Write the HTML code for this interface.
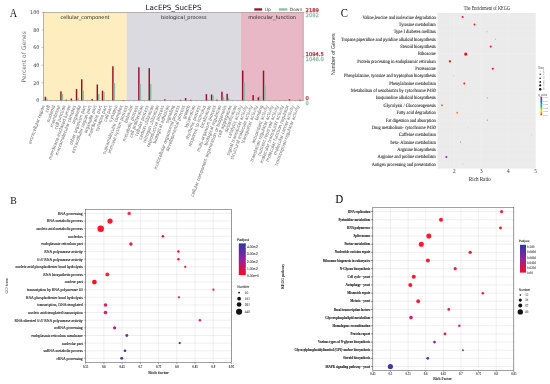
<!DOCTYPE html>
<html><head><meta charset="utf-8"><title>Figure</title>
<style>html,body{margin:0;padding:0;background:#fff;}svg{display:block;}.gp{text-rendering:geometricPrecision;}</style></head>
<body><svg width="550" height="384" viewBox="0 0 550 384">
<rect x="0" y="0" width="550" height="384" fill="#fff"/>
<rect x="43.50" y="12.40" width="83.10" height="88.00" fill="#fdedbf"/>
<rect x="126.60" y="12.40" width="114.27" height="88.00" fill="#dadae0"/>
<rect x="240.87" y="12.40" width="62.33" height="88.00" fill="#e9b8c6"/>
<rect x="43.50" y="12.40" width="259.70" height="88.00" fill="none" stroke="#a89e98" stroke-width="0.8"/>
<text x="85.05" y="18.60" font-size="5.0" fill="#222" font-family="'DejaVu Sans','Liberation Sans',sans-serif" text-anchor="middle">cellular_component</text>
<text x="183.74" y="18.60" font-size="5.0" fill="#222" font-family="'DejaVu Sans','Liberation Sans',sans-serif" text-anchor="middle">biological_process</text>
<text x="272.04" y="18.60" font-size="5.0" fill="#222" font-family="'DejaVu Sans','Liberation Sans',sans-serif" text-anchor="middle">molecular_function</text>
<line x1="41.60" y1="100.40" x2="43.50" y2="100.40" stroke="#888" stroke-width="0.5"/>
<text x="39.40" y="102.15" font-size="4.9" fill="#555" font-family="'DejaVu Sans','Liberation Sans',sans-serif" text-anchor="end" stroke="#555" stroke-width="0.06">0</text>
<line x1="41.60" y1="82.80" x2="43.50" y2="82.80" stroke="#888" stroke-width="0.5"/>
<text x="39.40" y="84.55" font-size="4.9" fill="#555" font-family="'DejaVu Sans','Liberation Sans',sans-serif" text-anchor="end" stroke="#555" stroke-width="0.06">20</text>
<line x1="41.60" y1="65.20" x2="43.50" y2="65.20" stroke="#888" stroke-width="0.5"/>
<text x="39.40" y="66.95" font-size="4.9" fill="#555" font-family="'DejaVu Sans','Liberation Sans',sans-serif" text-anchor="end" stroke="#555" stroke-width="0.06">40</text>
<line x1="41.60" y1="47.60" x2="43.50" y2="47.60" stroke="#888" stroke-width="0.5"/>
<text x="39.40" y="49.35" font-size="4.9" fill="#555" font-family="'DejaVu Sans','Liberation Sans',sans-serif" text-anchor="end" stroke="#555" stroke-width="0.06">60</text>
<line x1="41.60" y1="30.00" x2="43.50" y2="30.00" stroke="#888" stroke-width="0.5"/>
<text x="39.40" y="31.75" font-size="4.9" fill="#555" font-family="'DejaVu Sans','Liberation Sans',sans-serif" text-anchor="end" stroke="#555" stroke-width="0.06">80</text>
<line x1="41.60" y1="12.40" x2="43.50" y2="12.40" stroke="#888" stroke-width="0.5"/>
<text x="39.40" y="14.15" font-size="4.9" fill="#555" font-family="'DejaVu Sans','Liberation Sans',sans-serif" text-anchor="end" stroke="#555" stroke-width="0.06">100</text>
<text x="25.80" y="56.80" font-size="6.0" fill="#777" font-family="'DejaVu Sans','Liberation Sans',sans-serif" text-anchor="middle" transform="rotate(-90 25.80 56.80)">Percent of Genes</text>
<text x="173.50" y="10.00" font-size="7.2" fill="#111" font-family="'DejaVu Sans','Liberation Sans',sans-serif" text-anchor="middle">LacEPS_SucEPS</text>
<rect x="254.30" y="8.30" width="7.80" height="2.30" fill="#a0122c"/>
<text x="264.80" y="10.90" font-size="4.4" fill="#444" font-family="'DejaVu Sans','Liberation Sans',sans-serif">Up</text>
<rect x="278.80" y="8.30" width="8.60" height="2.30" fill="#8cc0a8"/>
<text x="289.80" y="10.90" font-size="4.4" fill="#444" font-family="'DejaVu Sans','Liberation Sans',sans-serif">Down</text>
<line x1="303.20" y1="12.40" x2="304.60" y2="12.40" stroke="#999" stroke-width="0.5"/>
<line x1="303.20" y1="56.40" x2="304.60" y2="56.40" stroke="#999" stroke-width="0.5"/>
<line x1="303.20" y1="100.40" x2="304.60" y2="100.40" stroke="#999" stroke-width="0.5"/>
<text x="305.60" y="11.70" font-size="5.2" fill="#b5303f" font-family="'DejaVu Sans','Liberation Sans',sans-serif" class="gp" stroke="#b5303f" stroke-width="0.3">2189</text>
<text x="305.60" y="16.60" font-size="5.2" fill="#8fbfa9" font-family="'DejaVu Sans','Liberation Sans',sans-serif" class="gp" stroke="#8fbfa9" stroke-width="0.3">2092</text>
<text x="305.60" y="55.60" font-size="5.2" fill="#b5303f" font-family="'DejaVu Sans','Liberation Sans',sans-serif" class="gp" stroke="#b5303f" stroke-width="0.3">1094.5</text>
<text x="305.60" y="60.50" font-size="5.2" fill="#8fbfa9" font-family="'DejaVu Sans','Liberation Sans',sans-serif" class="gp" stroke="#8fbfa9" stroke-width="0.3">1046.0</text>
<text x="305.60" y="100.00" font-size="5.2" fill="#b5303f" font-family="'DejaVu Sans','Liberation Sans',sans-serif" class="gp" stroke="#b5303f" stroke-width="0.3">0</text>
<text x="305.60" y="104.70" font-size="5.2" fill="#8fbfa9" font-family="'DejaVu Sans','Liberation Sans',sans-serif" class="gp" stroke="#8fbfa9" stroke-width="0.3">0</text>
<rect x="44.65" y="96.80" width="1.45" height="3.60" fill="#9c0e28"/>
<rect x="46.10" y="98.60" width="1.45" height="1.80" fill="#86bca4"/>
<rect x="60.23" y="91.40" width="1.45" height="9.00" fill="#9c0e28"/>
<rect x="61.68" y="94.00" width="1.45" height="6.40" fill="#86bca4"/>
<rect x="65.42" y="99.70" width="1.45" height="0.70" fill="#9c0e28"/>
<rect x="70.62" y="98.50" width="1.45" height="1.90" fill="#9c0e28"/>
<rect x="75.81" y="89.10" width="1.45" height="11.30" fill="#9c0e28"/>
<rect x="77.26" y="98.00" width="1.45" height="2.40" fill="#86bca4"/>
<rect x="81.00" y="79.30" width="1.45" height="21.10" fill="#9c0e28"/>
<rect x="82.45" y="90.80" width="1.45" height="9.60" fill="#86bca4"/>
<rect x="91.39" y="99.00" width="1.45" height="1.40" fill="#9c0e28"/>
<rect x="96.59" y="84.50" width="1.45" height="15.90" fill="#9c0e28"/>
<rect x="98.04" y="94.00" width="1.45" height="6.40" fill="#86bca4"/>
<rect x="101.78" y="90.70" width="1.45" height="9.70" fill="#9c0e28"/>
<rect x="103.23" y="91.90" width="1.45" height="8.50" fill="#86bca4"/>
<rect x="112.17" y="66.30" width="1.45" height="34.10" fill="#9c0e28"/>
<rect x="113.62" y="83.00" width="1.45" height="17.40" fill="#86bca4"/>
<rect x="122.56" y="100.00" width="1.45" height="0.40" fill="#9c0e28"/>
<rect x="138.14" y="67.30" width="1.45" height="33.10" fill="#9c0e28"/>
<rect x="139.59" y="84.00" width="1.45" height="16.40" fill="#86bca4"/>
<rect x="148.53" y="68.20" width="1.45" height="32.20" fill="#9c0e28"/>
<rect x="149.98" y="83.90" width="1.45" height="16.50" fill="#86bca4"/>
<rect x="164.11" y="99.30" width="1.45" height="1.10" fill="#9c0e28"/>
<rect x="179.69" y="99.80" width="1.45" height="0.60" fill="#9c0e28"/>
<rect x="184.89" y="98.00" width="1.45" height="2.40" fill="#9c0e28"/>
<rect x="190.08" y="99.80" width="1.45" height="0.60" fill="#9c0e28"/>
<rect x="205.66" y="94.10" width="1.45" height="6.30" fill="#9c0e28"/>
<rect x="207.11" y="99.30" width="1.45" height="1.10" fill="#86bca4"/>
<rect x="210.86" y="94.50" width="1.45" height="5.90" fill="#9c0e28"/>
<rect x="212.31" y="95.40" width="1.45" height="5.00" fill="#86bca4"/>
<rect x="216.05" y="99.70" width="1.45" height="0.70" fill="#9c0e28"/>
<rect x="221.24" y="91.70" width="1.45" height="8.70" fill="#9c0e28"/>
<rect x="222.69" y="96.90" width="1.45" height="3.50" fill="#86bca4"/>
<rect x="226.44" y="93.80" width="1.45" height="6.60" fill="#9c0e28"/>
<rect x="227.89" y="98.00" width="1.45" height="2.40" fill="#86bca4"/>
<rect x="242.02" y="70.60" width="1.45" height="29.80" fill="#9c0e28"/>
<rect x="243.47" y="82.30" width="1.45" height="18.10" fill="#86bca4"/>
<rect x="252.41" y="95.10" width="1.45" height="5.30" fill="#9c0e28"/>
<rect x="257.60" y="97.30" width="1.45" height="3.10" fill="#9c0e28"/>
<rect x="259.05" y="96.00" width="1.45" height="4.40" fill="#86bca4"/>
<rect x="262.80" y="70.60" width="1.45" height="29.80" fill="#9c0e28"/>
<rect x="264.25" y="84.90" width="1.45" height="15.50" fill="#86bca4"/>
<rect x="288.77" y="99.20" width="1.45" height="1.20" fill="#9c0e28"/>
<rect x="299.15" y="99.80" width="1.45" height="0.60" fill="#9c0e28"/>
<line x1="45.90" y1="100.40" x2="45.90" y2="101.80" stroke="#999" stroke-width="0.4"/>
<line x1="51.09" y1="100.40" x2="51.09" y2="101.80" stroke="#999" stroke-width="0.4"/>
<line x1="56.28" y1="100.40" x2="56.28" y2="101.80" stroke="#999" stroke-width="0.4"/>
<line x1="61.48" y1="100.40" x2="61.48" y2="101.80" stroke="#999" stroke-width="0.4"/>
<line x1="66.67" y1="100.40" x2="66.67" y2="101.80" stroke="#999" stroke-width="0.4"/>
<line x1="71.87" y1="100.40" x2="71.87" y2="101.80" stroke="#999" stroke-width="0.4"/>
<line x1="77.06" y1="100.40" x2="77.06" y2="101.80" stroke="#999" stroke-width="0.4"/>
<line x1="82.25" y1="100.40" x2="82.25" y2="101.80" stroke="#999" stroke-width="0.4"/>
<line x1="87.45" y1="100.40" x2="87.45" y2="101.80" stroke="#999" stroke-width="0.4"/>
<line x1="92.64" y1="100.40" x2="92.64" y2="101.80" stroke="#999" stroke-width="0.4"/>
<line x1="97.84" y1="100.40" x2="97.84" y2="101.80" stroke="#999" stroke-width="0.4"/>
<line x1="103.03" y1="100.40" x2="103.03" y2="101.80" stroke="#999" stroke-width="0.4"/>
<line x1="108.22" y1="100.40" x2="108.22" y2="101.80" stroke="#999" stroke-width="0.4"/>
<line x1="113.42" y1="100.40" x2="113.42" y2="101.80" stroke="#999" stroke-width="0.4"/>
<line x1="118.61" y1="100.40" x2="118.61" y2="101.80" stroke="#999" stroke-width="0.4"/>
<line x1="123.81" y1="100.40" x2="123.81" y2="101.80" stroke="#999" stroke-width="0.4"/>
<line x1="129.00" y1="100.40" x2="129.00" y2="101.80" stroke="#999" stroke-width="0.4"/>
<line x1="134.19" y1="100.40" x2="134.19" y2="101.80" stroke="#999" stroke-width="0.4"/>
<line x1="139.39" y1="100.40" x2="139.39" y2="101.80" stroke="#999" stroke-width="0.4"/>
<line x1="144.58" y1="100.40" x2="144.58" y2="101.80" stroke="#999" stroke-width="0.4"/>
<line x1="149.78" y1="100.40" x2="149.78" y2="101.80" stroke="#999" stroke-width="0.4"/>
<line x1="154.97" y1="100.40" x2="154.97" y2="101.80" stroke="#999" stroke-width="0.4"/>
<line x1="160.17" y1="100.40" x2="160.17" y2="101.80" stroke="#999" stroke-width="0.4"/>
<line x1="165.36" y1="100.40" x2="165.36" y2="101.80" stroke="#999" stroke-width="0.4"/>
<line x1="170.55" y1="100.40" x2="170.55" y2="101.80" stroke="#999" stroke-width="0.4"/>
<line x1="175.75" y1="100.40" x2="175.75" y2="101.80" stroke="#999" stroke-width="0.4"/>
<line x1="180.94" y1="100.40" x2="180.94" y2="101.80" stroke="#999" stroke-width="0.4"/>
<line x1="186.14" y1="100.40" x2="186.14" y2="101.80" stroke="#999" stroke-width="0.4"/>
<line x1="191.33" y1="100.40" x2="191.33" y2="101.80" stroke="#999" stroke-width="0.4"/>
<line x1="196.52" y1="100.40" x2="196.52" y2="101.80" stroke="#999" stroke-width="0.4"/>
<line x1="201.72" y1="100.40" x2="201.72" y2="101.80" stroke="#999" stroke-width="0.4"/>
<line x1="206.91" y1="100.40" x2="206.91" y2="101.80" stroke="#999" stroke-width="0.4"/>
<line x1="212.11" y1="100.40" x2="212.11" y2="101.80" stroke="#999" stroke-width="0.4"/>
<line x1="217.30" y1="100.40" x2="217.30" y2="101.80" stroke="#999" stroke-width="0.4"/>
<line x1="222.49" y1="100.40" x2="222.49" y2="101.80" stroke="#999" stroke-width="0.4"/>
<line x1="227.69" y1="100.40" x2="227.69" y2="101.80" stroke="#999" stroke-width="0.4"/>
<line x1="232.88" y1="100.40" x2="232.88" y2="101.80" stroke="#999" stroke-width="0.4"/>
<line x1="238.08" y1="100.40" x2="238.08" y2="101.80" stroke="#999" stroke-width="0.4"/>
<line x1="243.27" y1="100.40" x2="243.27" y2="101.80" stroke="#999" stroke-width="0.4"/>
<line x1="248.46" y1="100.40" x2="248.46" y2="101.80" stroke="#999" stroke-width="0.4"/>
<line x1="253.66" y1="100.40" x2="253.66" y2="101.80" stroke="#999" stroke-width="0.4"/>
<line x1="258.85" y1="100.40" x2="258.85" y2="101.80" stroke="#999" stroke-width="0.4"/>
<line x1="264.05" y1="100.40" x2="264.05" y2="101.80" stroke="#999" stroke-width="0.4"/>
<line x1="269.24" y1="100.40" x2="269.24" y2="101.80" stroke="#999" stroke-width="0.4"/>
<line x1="274.43" y1="100.40" x2="274.43" y2="101.80" stroke="#999" stroke-width="0.4"/>
<line x1="279.63" y1="100.40" x2="279.63" y2="101.80" stroke="#999" stroke-width="0.4"/>
<line x1="284.82" y1="100.40" x2="284.82" y2="101.80" stroke="#999" stroke-width="0.4"/>
<line x1="290.02" y1="100.40" x2="290.02" y2="101.80" stroke="#999" stroke-width="0.4"/>
<line x1="295.21" y1="100.40" x2="295.21" y2="101.80" stroke="#999" stroke-width="0.4"/>
<line x1="300.40" y1="100.40" x2="300.40" y2="101.80" stroke="#999" stroke-width="0.4"/>
<text x="0" y="0" font-size="4.7" fill="#6a6a6a" font-family="'DejaVu Sans','Liberation Sans',sans-serif" text-anchor="end" transform="translate(44.90 105.90) rotate(-70) scale(0.894 1)">extracellular region</text>
<text x="0" y="0" font-size="4.7" fill="#6a6a6a" font-family="'DejaVu Sans','Liberation Sans',sans-serif" text-anchor="end" transform="translate(50.09 105.90) rotate(-70) scale(0.894 1)">cell</text>
<text x="0" y="0" font-size="4.7" fill="#6a6a6a" font-family="'DejaVu Sans','Liberation Sans',sans-serif" text-anchor="end" transform="translate(55.28 105.90) rotate(-70) scale(0.894 1)">nucleoid</text>
<text x="0" y="0" font-size="4.7" fill="#6a6a6a" font-family="'DejaVu Sans','Liberation Sans',sans-serif" text-anchor="end" transform="translate(60.48 105.90) rotate(-70) scale(0.894 1)">membrane</text>
<text x="0" y="0" font-size="4.7" fill="#6a6a6a" font-family="'DejaVu Sans','Liberation Sans',sans-serif" text-anchor="end" transform="translate(65.67 105.90) rotate(-70) scale(0.894 1)">cell junction</text>
<text x="0" y="0" font-size="4.7" fill="#6a6a6a" font-family="'DejaVu Sans','Liberation Sans',sans-serif" text-anchor="end" transform="translate(70.87 105.90) rotate(-70) scale(0.894 1)">membrane-enclosed lumen</text>
<text x="0" y="0" font-size="4.7" fill="#6a6a6a" font-family="'DejaVu Sans','Liberation Sans',sans-serif" text-anchor="end" transform="translate(76.06 105.90) rotate(-70) scale(0.894 1)">macromolecular complex</text>
<text x="0" y="0" font-size="4.7" fill="#6a6a6a" font-family="'DejaVu Sans','Liberation Sans',sans-serif" text-anchor="end" transform="translate(81.25 105.90) rotate(-70) scale(0.894 1)">organelle</text>
<text x="0" y="0" font-size="4.7" fill="#6a6a6a" font-family="'DejaVu Sans','Liberation Sans',sans-serif" text-anchor="end" transform="translate(86.45 105.90) rotate(-70) scale(0.894 1)">other organism part</text>
<text x="0" y="0" font-size="4.7" fill="#6a6a6a" font-family="'DejaVu Sans','Liberation Sans',sans-serif" text-anchor="end" transform="translate(91.64 105.90) rotate(-70) scale(0.894 1)">extracellular region part</text>
<text x="0" y="0" font-size="4.7" fill="#6a6a6a" font-family="'DejaVu Sans','Liberation Sans',sans-serif" text-anchor="end" transform="translate(96.84 105.90) rotate(-70) scale(0.894 1)">organelle part</text>
<text x="0" y="0" font-size="4.7" fill="#6a6a6a" font-family="'DejaVu Sans','Liberation Sans',sans-serif" text-anchor="end" transform="translate(102.03 105.90) rotate(-70) scale(0.894 1)">membrane part</text>
<text x="0" y="0" font-size="4.7" fill="#6a6a6a" font-family="'DejaVu Sans','Liberation Sans',sans-serif" text-anchor="end" transform="translate(107.22 105.90) rotate(-70) scale(0.894 1)">synapse part</text>
<text x="0" y="0" font-size="4.7" fill="#6a6a6a" font-family="'DejaVu Sans','Liberation Sans',sans-serif" text-anchor="end" transform="translate(112.42 105.90) rotate(-70) scale(0.894 1)">cell part</text>
<text x="0" y="0" font-size="4.7" fill="#6a6a6a" font-family="'DejaVu Sans','Liberation Sans',sans-serif" text-anchor="end" transform="translate(117.61 105.90) rotate(-70) scale(0.894 1)">synapse</text>
<text x="0" y="0" font-size="4.7" fill="#6a6a6a" font-family="'DejaVu Sans','Liberation Sans',sans-serif" text-anchor="end" transform="translate(122.81 105.90) rotate(-70) scale(0.894 1)">supramolecular complex</text>
<text x="0" y="0" font-size="4.7" fill="#6a6a6a" font-family="'DejaVu Sans','Liberation Sans',sans-serif" text-anchor="end" transform="translate(128.00 105.90) rotate(-70) scale(0.894 1)">immune system process</text>
<text x="0" y="0" font-size="4.7" fill="#6a6a6a" font-family="'DejaVu Sans','Liberation Sans',sans-serif" text-anchor="end" transform="translate(133.19 105.90) rotate(-70) scale(0.894 1)">behavior</text>
<text x="0" y="0" font-size="4.7" fill="#6a6a6a" font-family="'DejaVu Sans','Liberation Sans',sans-serif" text-anchor="end" transform="translate(138.39 105.90) rotate(-70) scale(0.894 1)">metabolic process</text>
<text x="0" y="0" font-size="4.7" fill="#6a6a6a" font-family="'DejaVu Sans','Liberation Sans',sans-serif" text-anchor="end" transform="translate(143.58 105.90) rotate(-70) scale(0.894 1)">cell proliferation</text>
<text x="0" y="0" font-size="4.7" fill="#6a6a6a" font-family="'DejaVu Sans','Liberation Sans',sans-serif" text-anchor="end" transform="translate(148.78 105.90) rotate(-70) scale(0.894 1)">cellular process</text>
<text x="0" y="0" font-size="4.7" fill="#6a6a6a" font-family="'DejaVu Sans','Liberation Sans',sans-serif" text-anchor="end" transform="translate(153.97 105.90) rotate(-70) scale(0.894 1)">carbon utilization</text>
<text x="0" y="0" font-size="4.7" fill="#6a6a6a" font-family="'DejaVu Sans','Liberation Sans',sans-serif" text-anchor="end" transform="translate(159.17 105.90) rotate(-70) scale(0.894 1)">nitrogen utilization</text>
<text x="0" y="0" font-size="4.7" fill="#6a6a6a" font-family="'DejaVu Sans','Liberation Sans',sans-serif" text-anchor="end" transform="translate(164.36 105.90) rotate(-70) scale(0.894 1)">reproductive process</text>
<text x="0" y="0" font-size="4.7" fill="#6a6a6a" font-family="'DejaVu Sans','Liberation Sans',sans-serif" text-anchor="end" transform="translate(169.55 105.90) rotate(-70) scale(0.894 1)">biological adhesion</text>
<text x="0" y="0" font-size="4.7" fill="#6a6a6a" font-family="'DejaVu Sans','Liberation Sans',sans-serif" text-anchor="end" transform="translate(174.75 105.90) rotate(-70) scale(0.894 1)">signaling</text>
<text x="0" y="0" font-size="4.7" fill="#6a6a6a" font-family="'DejaVu Sans','Liberation Sans',sans-serif" text-anchor="end" transform="translate(179.94 105.90) rotate(-70) scale(0.894 1)">multicellular organismal process</text>
<text x="0" y="0" font-size="4.7" fill="#6a6a6a" font-family="'DejaVu Sans','Liberation Sans',sans-serif" text-anchor="end" transform="translate(185.14 105.90) rotate(-70) scale(0.894 1)">developmental process</text>
<text x="0" y="0" font-size="4.7" fill="#6a6a6a" font-family="'DejaVu Sans','Liberation Sans',sans-serif" text-anchor="end" transform="translate(190.33 105.90) rotate(-70) scale(0.894 1)">growth</text>
<text x="0" y="0" font-size="4.7" fill="#6a6a6a" font-family="'DejaVu Sans','Liberation Sans',sans-serif" text-anchor="end" transform="translate(195.52 105.90) rotate(-70) scale(0.894 1)">locomotion</text>
<text x="0" y="0" font-size="4.7" fill="#6a6a6a" font-family="'DejaVu Sans','Liberation Sans',sans-serif" text-anchor="end" transform="translate(200.72 105.90) rotate(-70) scale(0.894 1)">rhythmic process</text>
<text x="0" y="0" font-size="4.7" fill="#6a6a6a" font-family="'DejaVu Sans','Liberation Sans',sans-serif" text-anchor="end" transform="translate(205.91 105.90) rotate(-70) scale(0.894 1)">response to stimulus</text>
<text x="0" y="0" font-size="4.7" fill="#6a6a6a" font-family="'DejaVu Sans','Liberation Sans',sans-serif" text-anchor="end" transform="translate(211.11 105.90) rotate(-70) scale(0.894 1)">localization</text>
<text x="0" y="0" font-size="4.7" fill="#6a6a6a" font-family="'DejaVu Sans','Liberation Sans',sans-serif" text-anchor="end" transform="translate(216.30 105.90) rotate(-70) scale(0.894 1)">multi-organism process</text>
<text x="0" y="0" font-size="4.7" fill="#6a6a6a" font-family="'DejaVu Sans','Liberation Sans',sans-serif" text-anchor="end" transform="translate(221.49 105.90) rotate(-70) scale(0.894 1)">biological regulation</text>
<text x="0" y="0" font-size="4.7" fill="#6a6a6a" font-family="'DejaVu Sans','Liberation Sans',sans-serif" text-anchor="end" transform="translate(226.69 105.90) rotate(-70) scale(0.894 1)">cellular component organization or biogenesis</text>
<text x="0" y="0" font-size="4.7" fill="#6a6a6a" font-family="'DejaVu Sans','Liberation Sans',sans-serif" text-anchor="end" transform="translate(231.88 105.90) rotate(-70) scale(0.894 1)">cell aggregation</text>
<text x="0" y="0" font-size="4.7" fill="#6a6a6a" font-family="'DejaVu Sans','Liberation Sans',sans-serif" text-anchor="end" transform="translate(237.08 105.90) rotate(-70) scale(0.894 1)">detoxification</text>
<text x="0" y="0" font-size="4.7" fill="#6a6a6a" font-family="'DejaVu Sans','Liberation Sans',sans-serif" text-anchor="end" transform="translate(242.27 105.90) rotate(-70) scale(0.894 1)">catalytic activity</text>
<text x="0" y="0" font-size="4.7" fill="#6a6a6a" font-family="'DejaVu Sans','Liberation Sans',sans-serif" text-anchor="end" transform="translate(247.46 105.90) rotate(-70) scale(0.894 1)">signal transducer activity</text>
<text x="0" y="0" font-size="4.7" fill="#6a6a6a" font-family="'DejaVu Sans','Liberation Sans',sans-serif" text-anchor="end" transform="translate(252.66 105.90) rotate(-70) scale(0.894 1)">structural molecule activity</text>
<text x="0" y="0" font-size="4.7" fill="#6a6a6a" font-family="'DejaVu Sans','Liberation Sans',sans-serif" text-anchor="end" transform="translate(257.85 105.90) rotate(-70) scale(0.894 1)">transporter activity</text>
<text x="0" y="0" font-size="4.7" fill="#6a6a6a" font-family="'DejaVu Sans','Liberation Sans',sans-serif" text-anchor="end" transform="translate(263.05 105.90) rotate(-70) scale(0.894 1)">binding</text>
<text x="0" y="0" font-size="4.7" fill="#6a6a6a" font-family="'DejaVu Sans','Liberation Sans',sans-serif" text-anchor="end" transform="translate(268.24 105.90) rotate(-70) scale(0.894 1)">antioxidant activity</text>
<text x="0" y="0" font-size="4.7" fill="#6a6a6a" font-family="'DejaVu Sans','Liberation Sans',sans-serif" text-anchor="end" transform="translate(273.43 105.90) rotate(-70) scale(0.894 1)">translation regulator activity</text>
<text x="0" y="0" font-size="4.7" fill="#6a6a6a" font-family="'DejaVu Sans','Liberation Sans',sans-serif" text-anchor="end" transform="translate(278.63 105.90) rotate(-70) scale(0.894 1)">nutrient reservoir activity</text>
<text x="0" y="0" font-size="4.7" fill="#6a6a6a" font-family="'DejaVu Sans','Liberation Sans',sans-serif" text-anchor="end" transform="translate(283.82 105.90) rotate(-70) scale(0.894 1)">molecular transducer activity</text>
<text x="0" y="0" font-size="4.7" fill="#6a6a6a" font-family="'DejaVu Sans','Liberation Sans',sans-serif" text-anchor="end" transform="translate(289.02 105.90) rotate(-70) scale(0.894 1)">molecular function regulator</text>
<text x="0" y="0" font-size="4.7" fill="#6a6a6a" font-family="'DejaVu Sans','Liberation Sans',sans-serif" text-anchor="end" transform="translate(294.21 105.90) rotate(-70) scale(0.894 1)">molecular carrier activity</text>
<text x="0" y="0" font-size="4.7" fill="#6a6a6a" font-family="'DejaVu Sans','Liberation Sans',sans-serif" text-anchor="end" transform="translate(299.40 105.90) rotate(-70) scale(0.894 1)">transcription regulator activity</text>
<text x="0" y="0" font-size="11.5" fill="#111" font-family="'Liberation Serif',serif" transform="translate(9.70 16.80) scale(0.89 1)">A</text>
<text x="0" y="0" font-size="12.1" fill="#111" font-family="'Liberation Serif',serif" transform="translate(340.70 17.00) scale(0.89 1)">C</text>
<rect x="437.50" y="13.00" width="98.30" height="155.60" fill="#ebebeb"/>
<line x1="440.76" y1="13.00" x2="440.76" y2="168.60" stroke="#eeeeee" stroke-width="0.3"/>
<line x1="467.84" y1="13.00" x2="467.84" y2="168.60" stroke="#eeeeee" stroke-width="0.3"/>
<line x1="494.91" y1="13.00" x2="494.91" y2="168.60" stroke="#eeeeee" stroke-width="0.3"/>
<line x1="521.98" y1="13.00" x2="521.98" y2="168.60" stroke="#eeeeee" stroke-width="0.3"/>
<line x1="454.30" y1="13.00" x2="454.30" y2="168.60" stroke="#f3f3f3" stroke-width="0.5"/>
<line x1="481.37" y1="13.00" x2="481.37" y2="168.60" stroke="#f3f3f3" stroke-width="0.5"/>
<line x1="508.44" y1="13.00" x2="508.44" y2="168.60" stroke="#f3f3f3" stroke-width="0.5"/>
<line x1="535.51" y1="13.00" x2="535.51" y2="168.60" stroke="#f3f3f3" stroke-width="0.5"/>
<line x1="437.50" y1="17.00" x2="535.80" y2="17.00" stroke="#f0f0f0" stroke-width="0.4"/>
<text x="0" y="0" font-size="5.0" fill="#262626" font-family="'Liberation Serif',serif" transform="translate(435.80 18.60) scale(0.88 1)" text-anchor="end" class="gp" stroke="#262626" stroke-width="0.09">Valine,leucine and isoleucine degradation</text>
<line x1="437.50" y1="24.35" x2="535.80" y2="24.35" stroke="#f0f0f0" stroke-width="0.4"/>
<text x="0" y="0" font-size="5.0" fill="#262626" font-family="'Liberation Serif',serif" transform="translate(435.80 25.95) scale(0.88 1)" text-anchor="end" class="gp" stroke="#262626" stroke-width="0.09">Tyrosine metabolism</text>
<line x1="437.50" y1="31.70" x2="535.80" y2="31.70" stroke="#f0f0f0" stroke-width="0.4"/>
<text x="0" y="0" font-size="5.0" fill="#262626" font-family="'Liberation Serif',serif" transform="translate(435.80 33.30) scale(0.88 1)" text-anchor="end" class="gp" stroke="#262626" stroke-width="0.09">Type I diabetes mellitus</text>
<line x1="437.50" y1="39.05" x2="535.80" y2="39.05" stroke="#f0f0f0" stroke-width="0.4"/>
<text x="0" y="0" font-size="5.0" fill="#262626" font-family="'Liberation Serif',serif" transform="translate(435.80 40.65) scale(0.88 1)" text-anchor="end" class="gp" stroke="#262626" stroke-width="0.09">Tropane,piperidine and pyridine alkaloid biosynthesis</text>
<line x1="437.50" y1="46.40" x2="535.80" y2="46.40" stroke="#f0f0f0" stroke-width="0.4"/>
<text x="0" y="0" font-size="5.0" fill="#262626" font-family="'Liberation Serif',serif" transform="translate(435.80 48.00) scale(0.88 1)" text-anchor="end" class="gp" stroke="#262626" stroke-width="0.09">Steroid biosynthesis</text>
<line x1="437.50" y1="53.75" x2="535.80" y2="53.75" stroke="#f0f0f0" stroke-width="0.4"/>
<text x="0" y="0" font-size="5.0" fill="#262626" font-family="'Liberation Serif',serif" transform="translate(435.80 55.35) scale(0.88 1)" text-anchor="end" class="gp" stroke="#262626" stroke-width="0.09">Ribosome</text>
<line x1="437.50" y1="61.10" x2="535.80" y2="61.10" stroke="#f0f0f0" stroke-width="0.4"/>
<text x="0" y="0" font-size="5.0" fill="#262626" font-family="'Liberation Serif',serif" transform="translate(435.80 62.70) scale(0.88 1)" text-anchor="end" class="gp" stroke="#262626" stroke-width="0.09">Protein processing in endoplasmic reticulum</text>
<line x1="437.50" y1="68.45" x2="535.80" y2="68.45" stroke="#f0f0f0" stroke-width="0.4"/>
<text x="0" y="0" font-size="5.0" fill="#262626" font-family="'Liberation Serif',serif" transform="translate(435.80 70.05) scale(0.88 1)" text-anchor="end" class="gp" stroke="#262626" stroke-width="0.09">Proteasome</text>
<line x1="437.50" y1="75.80" x2="535.80" y2="75.80" stroke="#f0f0f0" stroke-width="0.4"/>
<text x="0" y="0" font-size="5.0" fill="#262626" font-family="'Liberation Serif',serif" transform="translate(435.80 77.40) scale(0.88 1)" text-anchor="end" class="gp" stroke="#262626" stroke-width="0.09">Phenylalanine, tyrosine and tryptophan biosynthesis</text>
<line x1="437.50" y1="83.15" x2="535.80" y2="83.15" stroke="#f0f0f0" stroke-width="0.4"/>
<text x="0" y="0" font-size="5.0" fill="#262626" font-family="'Liberation Serif',serif" transform="translate(435.80 84.75) scale(0.88 1)" text-anchor="end" class="gp" stroke="#262626" stroke-width="0.09">Phenylalanine metabolism</text>
<line x1="437.50" y1="90.50" x2="535.80" y2="90.50" stroke="#f0f0f0" stroke-width="0.4"/>
<text x="0" y="0" font-size="5.0" fill="#262626" font-family="'Liberation Serif',serif" transform="translate(435.80 92.10) scale(0.88 1)" text-anchor="end" class="gp" stroke="#262626" stroke-width="0.09">Metabolism of xenobiotics by cytochrome P450</text>
<line x1="437.50" y1="97.85" x2="535.80" y2="97.85" stroke="#f0f0f0" stroke-width="0.4"/>
<text x="0" y="0" font-size="5.0" fill="#262626" font-family="'Liberation Serif',serif" transform="translate(435.80 99.45) scale(0.88 1)" text-anchor="end" class="gp" stroke="#262626" stroke-width="0.09">Isoquinoline alkaloid biosynthesis</text>
<line x1="437.50" y1="105.20" x2="535.80" y2="105.20" stroke="#f0f0f0" stroke-width="0.4"/>
<text x="0" y="0" font-size="5.0" fill="#262626" font-family="'Liberation Serif',serif" transform="translate(435.80 106.80) scale(0.88 1)" text-anchor="end" class="gp" stroke="#262626" stroke-width="0.09">Glycolysis / Gluconeogenesis</text>
<line x1="437.50" y1="112.55" x2="535.80" y2="112.55" stroke="#f0f0f0" stroke-width="0.4"/>
<text x="0" y="0" font-size="5.0" fill="#262626" font-family="'Liberation Serif',serif" transform="translate(435.80 114.15) scale(0.88 1)" text-anchor="end" class="gp" stroke="#262626" stroke-width="0.09">Fatty acid degradation</text>
<line x1="437.50" y1="119.90" x2="535.80" y2="119.90" stroke="#f0f0f0" stroke-width="0.4"/>
<text x="0" y="0" font-size="5.0" fill="#262626" font-family="'Liberation Serif',serif" transform="translate(435.80 121.50) scale(0.88 1)" text-anchor="end" class="gp" stroke="#262626" stroke-width="0.09">Fat digestion and absorption</text>
<line x1="437.50" y1="127.25" x2="535.80" y2="127.25" stroke="#f0f0f0" stroke-width="0.4"/>
<text x="0" y="0" font-size="5.0" fill="#262626" font-family="'Liberation Serif',serif" transform="translate(435.80 128.85) scale(0.88 1)" text-anchor="end" class="gp" stroke="#262626" stroke-width="0.09">Drug metabolism- cytochrome P450</text>
<line x1="437.50" y1="134.60" x2="535.80" y2="134.60" stroke="#f0f0f0" stroke-width="0.4"/>
<text x="0" y="0" font-size="5.0" fill="#262626" font-family="'Liberation Serif',serif" transform="translate(435.80 136.20) scale(0.88 1)" text-anchor="end" class="gp" stroke="#262626" stroke-width="0.09">Caffeine metabolism</text>
<line x1="437.50" y1="141.95" x2="535.80" y2="141.95" stroke="#f0f0f0" stroke-width="0.4"/>
<text x="0" y="0" font-size="5.0" fill="#262626" font-family="'Liberation Serif',serif" transform="translate(435.80 143.55) scale(0.88 1)" text-anchor="end" class="gp" stroke="#262626" stroke-width="0.09">beta- Alanine metabolism</text>
<line x1="437.50" y1="149.30" x2="535.80" y2="149.30" stroke="#f0f0f0" stroke-width="0.4"/>
<text x="0" y="0" font-size="5.0" fill="#262626" font-family="'Liberation Serif',serif" transform="translate(435.80 150.90) scale(0.88 1)" text-anchor="end" class="gp" stroke="#262626" stroke-width="0.09">Arginine biosynthesis</text>
<line x1="437.50" y1="156.65" x2="535.80" y2="156.65" stroke="#f0f0f0" stroke-width="0.4"/>
<text x="0" y="0" font-size="5.0" fill="#262626" font-family="'Liberation Serif',serif" transform="translate(435.80 158.25) scale(0.88 1)" text-anchor="end" class="gp" stroke="#262626" stroke-width="0.09">Arginine and proline metabolism</text>
<line x1="437.50" y1="164.00" x2="535.80" y2="164.00" stroke="#f0f0f0" stroke-width="0.4"/>
<text x="0" y="0" font-size="5.0" fill="#262626" font-family="'Liberation Serif',serif" transform="translate(435.80 165.60) scale(0.88 1)" text-anchor="end" class="gp" stroke="#262626" stroke-width="0.09">Antigen processing and presentation</text>
<text x="0" y="0" font-size="6.2" fill="#333" font-family="'Liberation Serif',serif" transform="translate(454.30 173.30) scale(0.85 1)" text-anchor="middle">2</text>
<text x="0" y="0" font-size="6.2" fill="#333" font-family="'Liberation Serif',serif" transform="translate(481.37 173.30) scale(0.85 1)" text-anchor="middle">3</text>
<text x="0" y="0" font-size="6.2" fill="#333" font-family="'Liberation Serif',serif" transform="translate(508.44 173.30) scale(0.85 1)" text-anchor="middle">4</text>
<text x="0" y="0" font-size="6.2" fill="#333" font-family="'Liberation Serif',serif" transform="translate(535.51 173.30) scale(0.85 1)" text-anchor="middle">5</text>
<text x="479.80" y="181.00" font-size="5.1" fill="#222" font-family="'Liberation Serif',serif" text-anchor="middle">Rich Ratio</text>
<text x="0" y="0" font-size="5.1" fill="#222" font-family="'Liberation Serif',serif" transform="translate(486.90 9.70) scale(0.86 1)" text-anchor="middle">The Enrichment of KEGG</text>
<text x="335.40" y="54.20" font-size="5.25" fill="#333" font-family="'Liberation Sans',sans-serif" text-anchor="middle" transform="rotate(-90 335.40 54.20)">Number of Genes</text>
<circle cx="462.60" cy="17.00" r="0.95" fill="#ff1010"/>
<circle cx="474.50" cy="24.50" r="0.95" fill="#ff1010"/>
<circle cx="487.00" cy="31.80" r="0.70" fill="#c8c8d0"/>
<circle cx="495.30" cy="39.10" r="0.55" fill="#f08080"/>
<circle cx="490.75" cy="46.60" r="1.00" fill="#ff1010"/>
<circle cx="465.75" cy="54.10" r="1.60" fill="#ff0a0a"/>
<circle cx="449.90" cy="61.40" r="1.15" fill="#ff1010"/>
<circle cx="492.80" cy="68.70" r="1.05" fill="#ff1010"/>
<circle cx="453.70" cy="75.75" r="0.60" fill="#b8b0c8"/>
<circle cx="464.30" cy="83.50" r="0.95" fill="#ff1010"/>
<circle cx="465.75" cy="90.60" r="0.55" fill="#f0e8a0"/>
<circle cx="487.40" cy="97.90" r="0.60" fill="#f08080"/>
<circle cx="442.00" cy="105.20" r="1.05" fill="#ff7a00"/>
<circle cx="457.20" cy="112.70" r="1.00" fill="#ff8c1a"/>
<circle cx="487.40" cy="120.20" r="0.65" fill="#b090c0"/>
<circle cx="468.25" cy="127.10" r="0.60" fill="#f0dc60"/>
<circle cx="531.40" cy="134.80" r="0.60" fill="#a8d4e4"/>
<circle cx="460.50" cy="142.10" r="0.60" fill="#9080b0"/>
<circle cx="462.00" cy="149.40" r="0.60" fill="#f0e080"/>
<circle cx="446.40" cy="156.90" r="1.00" fill="#6c2ca8"/>
<circle cx="463.00" cy="164.00" r="0.60" fill="#a0c8e0"/>
<text x="538.10" y="68.60" font-size="3.0" fill="#555" font-family="'Liberation Sans',sans-serif">Size</text>
<circle cx="540.20" cy="71.00" r="0.60" fill="#aaa"/>
<text x="543.00" y="71.90" font-size="2.6" fill="#777" font-family="'Liberation Sans',sans-serif">1</text>
<circle cx="540.20" cy="74.30" r="0.70" fill="#111"/>
<text x="543.00" y="75.20" font-size="2.6" fill="#777" font-family="'Liberation Sans',sans-serif">2</text>
<circle cx="540.20" cy="78.20" r="0.80" fill="#111"/>
<text x="543.00" y="79.10" font-size="2.6" fill="#777" font-family="'Liberation Sans',sans-serif">3</text>
<circle cx="540.20" cy="81.90" r="0.90" fill="#111"/>
<text x="543.00" y="82.80" font-size="2.6" fill="#777" font-family="'Liberation Sans',sans-serif">4</text>
<circle cx="540.20" cy="85.40" r="1.05" fill="#111"/>
<text x="543.00" y="86.30" font-size="2.6" fill="#777" font-family="'Liberation Sans',sans-serif">5</text>
<circle cx="540.20" cy="89.30" r="1.20" fill="#111"/>
<text x="543.00" y="90.20" font-size="2.6" fill="#777" font-family="'Liberation Sans',sans-serif">6</text>
<text x="538.20" y="96.00" font-size="2.6" fill="#555" font-family="'Liberation Sans',sans-serif">q_value</text>
<defs><linearGradient id="gC" x1="0" y1="0" x2="0" y2="1"><stop offset="0" stop-color="#7a30c0"/><stop offset="0.25" stop-color="#2060e0"/><stop offset="0.42" stop-color="#10b0c0"/><stop offset="0.55" stop-color="#20c040"/><stop offset="0.75" stop-color="#e8e020"/><stop offset="0.88" stop-color="#ff9000"/><stop offset="1" stop-color="#ff1000"/></linearGradient><linearGradient id="gB" x1="0" y1="0" x2="0" y2="1"><stop offset="0" stop-color="#2c38a0"/><stop offset="0.5" stop-color="#9022a0"/><stop offset="1" stop-color="#ff0820"/></linearGradient></defs>
<rect x="540.50" y="96.70" width="1.70" height="18.50" fill="url(#gC)"/>
<text x="543.20" y="98.20" font-size="2.4" fill="#777" font-family="'Liberation Sans',sans-serif">0.05</text>
<text x="543.20" y="101.68" font-size="2.4" fill="#777" font-family="'Liberation Sans',sans-serif">0.04</text>
<text x="543.20" y="105.16" font-size="2.4" fill="#777" font-family="'Liberation Sans',sans-serif">0.03</text>
<text x="543.20" y="108.64" font-size="2.4" fill="#777" font-family="'Liberation Sans',sans-serif">0.02</text>
<text x="543.20" y="112.12" font-size="2.4" fill="#777" font-family="'Liberation Sans',sans-serif">0.01</text>
<text x="543.20" y="115.60" font-size="2.4" fill="#777" font-family="'Liberation Sans',sans-serif">0.00</text>
<text x="0" y="0" font-size="10.6" fill="#111" font-family="'Liberation Serif',serif" transform="translate(10.20 203.70) scale(0.93 1)">B</text>
<line x1="85.70" y1="209.30" x2="85.70" y2="362.60" stroke="#e2e2e2" stroke-width="0.55"/>
<line x1="103.93" y1="209.30" x2="103.93" y2="362.60" stroke="#e2e2e2" stroke-width="0.55"/>
<line x1="122.15" y1="209.30" x2="122.15" y2="362.60" stroke="#e2e2e2" stroke-width="0.55"/>
<line x1="140.38" y1="209.30" x2="140.38" y2="362.60" stroke="#e2e2e2" stroke-width="0.55"/>
<line x1="158.60" y1="209.30" x2="158.60" y2="362.60" stroke="#e2e2e2" stroke-width="0.55"/>
<line x1="176.82" y1="209.30" x2="176.82" y2="362.60" stroke="#e2e2e2" stroke-width="0.55"/>
<line x1="195.05" y1="209.30" x2="195.05" y2="362.60" stroke="#e2e2e2" stroke-width="0.55"/>
<line x1="213.28" y1="209.30" x2="213.28" y2="362.60" stroke="#e2e2e2" stroke-width="0.55"/>
<line x1="231.50" y1="209.30" x2="231.50" y2="362.60" stroke="#e2e2e2" stroke-width="0.55"/>
<line x1="85.70" y1="213.40" x2="231.50" y2="213.40" stroke="#e2e2e2" stroke-width="0.55"/>
<line x1="84.20" y1="213.40" x2="85.70" y2="213.40" stroke="#333" stroke-width="0.45"/>
<text x="0" y="0" font-size="4.3" fill="#111" font-family="'Liberation Serif',serif" transform="translate(82.70 214.80) scale(0.88 1)" text-anchor="end" class="gp" stroke="#111" stroke-width="0.1">RNA processing</text>
<line x1="85.70" y1="221.03" x2="231.50" y2="221.03" stroke="#e2e2e2" stroke-width="0.55"/>
<line x1="84.20" y1="221.03" x2="85.70" y2="221.03" stroke="#333" stroke-width="0.45"/>
<text x="0" y="0" font-size="4.3" fill="#111" font-family="'Liberation Serif',serif" transform="translate(82.70 222.43) scale(0.88 1)" text-anchor="end" class="gp" stroke="#111" stroke-width="0.1">RNA metabolic process</text>
<line x1="85.70" y1="228.66" x2="231.50" y2="228.66" stroke="#e2e2e2" stroke-width="0.55"/>
<line x1="84.20" y1="228.66" x2="85.70" y2="228.66" stroke="#333" stroke-width="0.45"/>
<text x="0" y="0" font-size="4.3" fill="#111" font-family="'Liberation Serif',serif" transform="translate(82.70 230.06) scale(0.88 1)" text-anchor="end" class="gp" stroke="#111" stroke-width="0.1">nucleic acid metabolic process</text>
<line x1="85.70" y1="236.29" x2="231.50" y2="236.29" stroke="#e2e2e2" stroke-width="0.55"/>
<line x1="84.20" y1="236.29" x2="85.70" y2="236.29" stroke="#333" stroke-width="0.45"/>
<text x="0" y="0" font-size="4.3" fill="#111" font-family="'Liberation Serif',serif" transform="translate(82.70 237.69) scale(0.88 1)" text-anchor="end" class="gp" stroke="#111" stroke-width="0.1">nucleolus</text>
<line x1="85.70" y1="243.92" x2="231.50" y2="243.92" stroke="#e2e2e2" stroke-width="0.55"/>
<line x1="84.20" y1="243.92" x2="85.70" y2="243.92" stroke="#333" stroke-width="0.45"/>
<text x="0" y="0" font-size="4.3" fill="#111" font-family="'Liberation Serif',serif" transform="translate(82.70 245.32) scale(0.88 1)" text-anchor="end" class="gp" stroke="#111" stroke-width="0.1">endoplasmic reticulum part</text>
<line x1="85.70" y1="251.55" x2="231.50" y2="251.55" stroke="#e2e2e2" stroke-width="0.55"/>
<line x1="84.20" y1="251.55" x2="85.70" y2="251.55" stroke="#333" stroke-width="0.45"/>
<text x="0" y="0" font-size="4.3" fill="#111" font-family="'Liberation Serif',serif" transform="translate(82.70 252.95) scale(0.88 1)" text-anchor="end" class="gp" stroke="#111" stroke-width="0.1">RNA polymerase activity</text>
<line x1="85.70" y1="259.18" x2="231.50" y2="259.18" stroke="#e2e2e2" stroke-width="0.55"/>
<line x1="84.20" y1="259.18" x2="85.70" y2="259.18" stroke="#333" stroke-width="0.45"/>
<text x="0" y="0" font-size="4.3" fill="#111" font-family="'Liberation Serif',serif" transform="translate(82.70 260.58) scale(0.88 1)" text-anchor="end" class="gp" stroke="#111" stroke-width="0.1">5'-3' RNA polymerase activity</text>
<line x1="85.70" y1="266.81" x2="231.50" y2="266.81" stroke="#e2e2e2" stroke-width="0.55"/>
<line x1="84.20" y1="266.81" x2="85.70" y2="266.81" stroke="#333" stroke-width="0.45"/>
<text x="0" y="0" font-size="4.3" fill="#111" font-family="'Liberation Serif',serif" transform="translate(82.70 268.21) scale(0.88 1)" text-anchor="end" class="gp" stroke="#111" stroke-width="0.1">nucleic acid phosphodiester bond hydrolysis</text>
<line x1="85.70" y1="274.44" x2="231.50" y2="274.44" stroke="#e2e2e2" stroke-width="0.55"/>
<line x1="84.20" y1="274.44" x2="85.70" y2="274.44" stroke="#333" stroke-width="0.45"/>
<text x="0" y="0" font-size="4.3" fill="#111" font-family="'Liberation Serif',serif" transform="translate(82.70 275.84) scale(0.88 1)" text-anchor="end" class="gp" stroke="#111" stroke-width="0.1">RNA biosynthetic process</text>
<line x1="85.70" y1="282.07" x2="231.50" y2="282.07" stroke="#e2e2e2" stroke-width="0.55"/>
<line x1="84.20" y1="282.07" x2="85.70" y2="282.07" stroke="#333" stroke-width="0.45"/>
<text x="0" y="0" font-size="4.3" fill="#111" font-family="'Liberation Serif',serif" transform="translate(82.70 283.47) scale(0.88 1)" text-anchor="end" class="gp" stroke="#111" stroke-width="0.1">nuclear part</text>
<line x1="85.70" y1="289.70" x2="231.50" y2="289.70" stroke="#e2e2e2" stroke-width="0.55"/>
<line x1="84.20" y1="289.70" x2="85.70" y2="289.70" stroke="#333" stroke-width="0.45"/>
<text x="0" y="0" font-size="4.3" fill="#111" font-family="'Liberation Serif',serif" transform="translate(82.70 291.10) scale(0.88 1)" text-anchor="end" class="gp" stroke="#111" stroke-width="0.1">transcription by RNA polymerase III</text>
<line x1="85.70" y1="297.33" x2="231.50" y2="297.33" stroke="#e2e2e2" stroke-width="0.55"/>
<line x1="84.20" y1="297.33" x2="85.70" y2="297.33" stroke="#333" stroke-width="0.45"/>
<text x="0" y="0" font-size="4.3" fill="#111" font-family="'Liberation Serif',serif" transform="translate(82.70 298.73) scale(0.88 1)" text-anchor="end" class="gp" stroke="#111" stroke-width="0.1">RNA phosphodiester bond hydrolysis</text>
<line x1="85.70" y1="304.96" x2="231.50" y2="304.96" stroke="#e2e2e2" stroke-width="0.55"/>
<line x1="84.20" y1="304.96" x2="85.70" y2="304.96" stroke="#333" stroke-width="0.45"/>
<text x="0" y="0" font-size="4.3" fill="#111" font-family="'Liberation Serif',serif" transform="translate(82.70 306.36) scale(0.88 1)" text-anchor="end" class="gp" stroke="#111" stroke-width="0.1">transcription, DNA-templated</text>
<line x1="85.70" y1="312.59" x2="231.50" y2="312.59" stroke="#e2e2e2" stroke-width="0.55"/>
<line x1="84.20" y1="312.59" x2="85.70" y2="312.59" stroke="#333" stroke-width="0.45"/>
<text x="0" y="0" font-size="4.3" fill="#111" font-family="'Liberation Serif',serif" transform="translate(82.70 313.99) scale(0.88 1)" text-anchor="end" class="gp" stroke="#111" stroke-width="0.1">nucleic acid-templated transcription</text>
<line x1="85.70" y1="320.22" x2="231.50" y2="320.22" stroke="#e2e2e2" stroke-width="0.55"/>
<line x1="84.20" y1="320.22" x2="85.70" y2="320.22" stroke="#333" stroke-width="0.45"/>
<text x="0" y="0" font-size="4.3" fill="#111" font-family="'Liberation Serif',serif" transform="translate(82.70 321.62) scale(0.88 1)" text-anchor="end" class="gp" stroke="#111" stroke-width="0.1">RNA-directed 5'-3' RNA polymerase activity</text>
<line x1="85.70" y1="327.85" x2="231.50" y2="327.85" stroke="#e2e2e2" stroke-width="0.55"/>
<line x1="84.20" y1="327.85" x2="85.70" y2="327.85" stroke="#333" stroke-width="0.45"/>
<text x="0" y="0" font-size="4.3" fill="#111" font-family="'Liberation Serif',serif" transform="translate(82.70 329.25) scale(0.88 1)" text-anchor="end" class="gp" stroke="#111" stroke-width="0.1">ncRNA processing</text>
<line x1="85.70" y1="335.48" x2="231.50" y2="335.48" stroke="#e2e2e2" stroke-width="0.55"/>
<line x1="84.20" y1="335.48" x2="85.70" y2="335.48" stroke="#333" stroke-width="0.45"/>
<text x="0" y="0" font-size="4.3" fill="#111" font-family="'Liberation Serif',serif" transform="translate(82.70 336.88) scale(0.88 1)" text-anchor="end" class="gp" stroke="#111" stroke-width="0.1">endoplasmic reticulum membrane</text>
<line x1="85.70" y1="343.11" x2="231.50" y2="343.11" stroke="#e2e2e2" stroke-width="0.55"/>
<line x1="84.20" y1="343.11" x2="85.70" y2="343.11" stroke="#333" stroke-width="0.45"/>
<text x="0" y="0" font-size="4.3" fill="#111" font-family="'Liberation Serif',serif" transform="translate(82.70 344.51) scale(0.88 1)" text-anchor="end" class="gp" stroke="#111" stroke-width="0.1">nucleolar part</text>
<line x1="85.70" y1="350.74" x2="231.50" y2="350.74" stroke="#e2e2e2" stroke-width="0.55"/>
<line x1="84.20" y1="350.74" x2="85.70" y2="350.74" stroke="#333" stroke-width="0.45"/>
<text x="0" y="0" font-size="4.3" fill="#111" font-family="'Liberation Serif',serif" transform="translate(82.70 352.14) scale(0.88 1)" text-anchor="end" class="gp" stroke="#111" stroke-width="0.1">snRNA metabolic process</text>
<line x1="85.70" y1="358.37" x2="231.50" y2="358.37" stroke="#e2e2e2" stroke-width="0.55"/>
<line x1="84.20" y1="358.37" x2="85.70" y2="358.37" stroke="#333" stroke-width="0.45"/>
<text x="0" y="0" font-size="4.3" fill="#111" font-family="'Liberation Serif',serif" transform="translate(82.70 359.77) scale(0.88 1)" text-anchor="end" class="gp" stroke="#111" stroke-width="0.1">rRNA processing</text>
<rect x="85.70" y="209.30" width="145.80" height="153.30" fill="none" stroke="#444" stroke-width="0.5"/>
<line x1="85.70" y1="362.60" x2="85.70" y2="364.20" stroke="#333" stroke-width="0.4"/>
<text x="85.70" y="368.30" font-size="3.1" fill="#222" font-family="'Liberation Serif',serif" text-anchor="middle" font-weight="bold">0.55</text>
<line x1="103.93" y1="362.60" x2="103.93" y2="364.20" stroke="#333" stroke-width="0.4"/>
<text x="103.93" y="368.30" font-size="3.1" fill="#222" font-family="'Liberation Serif',serif" text-anchor="middle" font-weight="bold">0.6</text>
<line x1="122.15" y1="362.60" x2="122.15" y2="364.20" stroke="#333" stroke-width="0.4"/>
<text x="122.15" y="368.30" font-size="3.1" fill="#222" font-family="'Liberation Serif',serif" text-anchor="middle" font-weight="bold">0.65</text>
<line x1="140.38" y1="362.60" x2="140.38" y2="364.20" stroke="#333" stroke-width="0.4"/>
<text x="140.38" y="368.30" font-size="3.1" fill="#222" font-family="'Liberation Serif',serif" text-anchor="middle" font-weight="bold">0.7</text>
<line x1="158.60" y1="362.60" x2="158.60" y2="364.20" stroke="#333" stroke-width="0.4"/>
<text x="158.60" y="368.30" font-size="3.1" fill="#222" font-family="'Liberation Serif',serif" text-anchor="middle" font-weight="bold">0.75</text>
<line x1="176.82" y1="362.60" x2="176.82" y2="364.20" stroke="#333" stroke-width="0.4"/>
<text x="176.82" y="368.30" font-size="3.1" fill="#222" font-family="'Liberation Serif',serif" text-anchor="middle" font-weight="bold">0.8</text>
<line x1="195.05" y1="362.60" x2="195.05" y2="364.20" stroke="#333" stroke-width="0.4"/>
<text x="195.05" y="368.30" font-size="3.1" fill="#222" font-family="'Liberation Serif',serif" text-anchor="middle" font-weight="bold">0.85</text>
<line x1="213.28" y1="362.60" x2="213.28" y2="364.20" stroke="#333" stroke-width="0.4"/>
<text x="213.28" y="368.30" font-size="3.1" fill="#222" font-family="'Liberation Serif',serif" text-anchor="middle" font-weight="bold">0.9</text>
<line x1="231.50" y1="362.60" x2="231.50" y2="364.20" stroke="#333" stroke-width="0.4"/>
<text x="231.50" y="368.30" font-size="3.1" fill="#222" font-family="'Liberation Serif',serif" text-anchor="middle" font-weight="bold">0.95</text>
<text x="158.50" y="373.90" font-size="4.6" fill="#111" font-family="'Liberation Serif',serif" text-anchor="middle" stroke="#111" stroke-width="0.1">Rich factor</text>
<text x="7.90" y="285.80" font-size="4.4" fill="#222" font-family="'Liberation Serif',serif" text-anchor="middle" transform="rotate(-90 7.90 285.80)">GO term</text>
<circle cx="129.20" cy="213.40" r="1.72" fill="#ff2a3a"/>
<circle cx="110.00" cy="221.03" r="2.62" fill="#ff1a2a"/>
<circle cx="100.70" cy="228.66" r="3.25" fill="#ff1428"/>
<circle cx="162.90" cy="236.29" r="1.25" fill="#ff1020"/>
<circle cx="130.90" cy="243.92" r="1.72" fill="#ff1a30"/>
<circle cx="178.40" cy="251.55" r="1.20" fill="#ff1020"/>
<circle cx="178.40" cy="259.18" r="1.20" fill="#ff1020"/>
<circle cx="185.25" cy="266.81" r="1.09" fill="#ff1020"/>
<circle cx="107.30" cy="274.44" r="1.93" fill="#ff2030"/>
<circle cx="94.40" cy="282.07" r="2.41" fill="#ff1020"/>
<circle cx="213.40" cy="289.70" r="1.15" fill="#ff2040"/>
<circle cx="179.00" cy="297.33" r="1.15" fill="#ff2050"/>
<circle cx="105.50" cy="304.96" r="1.83" fill="#dc2068"/>
<circle cx="105.50" cy="312.59" r="1.83" fill="#dc2068"/>
<circle cx="199.90" cy="320.22" r="1.25" fill="#f0205a"/>
<circle cx="114.60" cy="327.85" r="1.62" fill="#b0208a"/>
<circle cx="126.80" cy="335.48" r="1.46" fill="#802a9a"/>
<circle cx="179.70" cy="343.11" r="1.15" fill="#3a36b0"/>
<circle cx="125.00" cy="350.74" r="1.36" fill="#3a34b0"/>
<circle cx="121.70" cy="358.37" r="1.46" fill="#3a36a8"/>
<text x="0" y="0" font-size="3.8" fill="#222" font-family="'Liberation Sans',sans-serif" transform="translate(236.90 241.30) scale(0.88 1)" font-weight="bold" class="gp">Padjust</text>
<rect x="238.80" y="243.40" width="7.00" height="31.70" fill="url(#gB)"/>
<line x1="244.80" y1="247.00" x2="245.80" y2="247.00" stroke="#fff" stroke-width="0.3"/>
<text x="0" y="0" font-size="3.7" fill="#444" font-family="'Liberation Sans',sans-serif" transform="translate(247.10 248.35) scale(0.86 1)" class="gp" stroke="#444" stroke-width="0.1">4.00e-2</text>
<line x1="244.80" y1="254.10" x2="245.80" y2="254.10" stroke="#fff" stroke-width="0.3"/>
<text x="0" y="0" font-size="3.7" fill="#444" font-family="'Liberation Sans',sans-serif" transform="translate(247.10 255.45) scale(0.86 1)" class="gp" stroke="#444" stroke-width="0.1">3.00e-2</text>
<line x1="244.80" y1="261.20" x2="245.80" y2="261.20" stroke="#fff" stroke-width="0.3"/>
<text x="0" y="0" font-size="3.7" fill="#444" font-family="'Liberation Sans',sans-serif" transform="translate(247.10 262.55) scale(0.86 1)" class="gp" stroke="#444" stroke-width="0.1">2.00e-2</text>
<line x1="244.80" y1="268.30" x2="245.80" y2="268.30" stroke="#fff" stroke-width="0.3"/>
<text x="0" y="0" font-size="3.7" fill="#444" font-family="'Liberation Sans',sans-serif" transform="translate(247.10 269.65) scale(0.86 1)" class="gp" stroke="#444" stroke-width="0.1">1.00e-2</text>
<line x1="244.80" y1="275.40" x2="245.80" y2="275.40" stroke="#fff" stroke-width="0.3"/>
<text x="0" y="0" font-size="3.7" fill="#444" font-family="'Liberation Sans',sans-serif" transform="translate(247.10 276.75) scale(0.86 1)" class="gp" stroke="#444" stroke-width="0.1">0.00e+0</text>
<text x="0" y="0" font-size="3.9" fill="#333" font-family="'Liberation Sans',sans-serif" transform="translate(237.30 288.00) scale(0.88 1)" class="gp" stroke="#333" stroke-width="0.08">Number</text>
<circle cx="239.10" cy="292.60" r="0.95" fill="#111"/>
<text x="0" y="0" font-size="3.7" fill="#555" font-family="'Liberation Sans',sans-serif" transform="translate(244.80 293.95) scale(0.86 1)" class="gp" stroke="#555" stroke-width="0.1">10</text>
<circle cx="239.10" cy="298.70" r="1.85" fill="#111"/>
<text x="0" y="0" font-size="3.7" fill="#555" font-family="'Liberation Sans',sans-serif" transform="translate(244.80 300.05) scale(0.86 1)" class="gp" stroke="#555" stroke-width="0.1">157</text>
<circle cx="239.10" cy="304.50" r="2.35" fill="#111"/>
<text x="0" y="0" font-size="3.7" fill="#555" font-family="'Liberation Sans',sans-serif" transform="translate(244.80 305.85) scale(0.86 1)" class="gp" stroke="#555" stroke-width="0.1">297</text>
<circle cx="239.10" cy="311.80" r="3.05" fill="#111"/>
<text x="0" y="0" font-size="3.7" fill="#555" font-family="'Liberation Sans',sans-serif" transform="translate(244.80 313.15) scale(0.86 1)" class="gp" stroke="#555" stroke-width="0.1">440</text>
<text x="0" y="0" font-size="11.8" fill="#111" font-family="'Liberation Serif',serif" transform="translate(335.50 202.80) scale(0.9 1)" stroke="#111" stroke-width="0.15">D</text>
<line x1="372.80" y1="207.40" x2="372.80" y2="370.50" stroke="#e2e2e2" stroke-width="0.55"/>
<line x1="390.43" y1="207.40" x2="390.43" y2="370.50" stroke="#e2e2e2" stroke-width="0.55"/>
<line x1="408.05" y1="207.40" x2="408.05" y2="370.50" stroke="#e2e2e2" stroke-width="0.55"/>
<line x1="425.68" y1="207.40" x2="425.68" y2="370.50" stroke="#e2e2e2" stroke-width="0.55"/>
<line x1="443.30" y1="207.40" x2="443.30" y2="370.50" stroke="#e2e2e2" stroke-width="0.55"/>
<line x1="460.92" y1="207.40" x2="460.92" y2="370.50" stroke="#e2e2e2" stroke-width="0.55"/>
<line x1="478.55" y1="207.40" x2="478.55" y2="370.50" stroke="#e2e2e2" stroke-width="0.55"/>
<line x1="496.17" y1="207.40" x2="496.17" y2="370.50" stroke="#e2e2e2" stroke-width="0.55"/>
<line x1="513.80" y1="207.40" x2="513.80" y2="370.50" stroke="#e2e2e2" stroke-width="0.55"/>
<line x1="372.80" y1="211.60" x2="513.80" y2="211.60" stroke="#e2e2e2" stroke-width="0.55"/>
<line x1="370.80" y1="211.60" x2="372.80" y2="211.60" stroke="#222" stroke-width="0.5"/>
<text x="370.20" y="212.70" font-size="3.2" fill="#111" font-family="'Liberation Serif',serif" text-anchor="end" font-weight="bold" stroke="#111" stroke-width="0.07">DNA replication</text>
<line x1="372.80" y1="219.75" x2="513.80" y2="219.75" stroke="#e2e2e2" stroke-width="0.55"/>
<line x1="370.80" y1="219.75" x2="372.80" y2="219.75" stroke="#222" stroke-width="0.5"/>
<text x="370.20" y="220.85" font-size="3.2" fill="#111" font-family="'Liberation Serif',serif" text-anchor="end" font-weight="bold" stroke="#111" stroke-width="0.07">Pyrimidine metabolism</text>
<line x1="372.80" y1="227.91" x2="513.80" y2="227.91" stroke="#e2e2e2" stroke-width="0.55"/>
<line x1="370.80" y1="227.91" x2="372.80" y2="227.91" stroke="#222" stroke-width="0.5"/>
<text x="370.20" y="229.01" font-size="3.2" fill="#111" font-family="'Liberation Serif',serif" text-anchor="end" font-weight="bold" stroke="#111" stroke-width="0.07">RNA polymerase</text>
<line x1="372.80" y1="236.06" x2="513.80" y2="236.06" stroke="#e2e2e2" stroke-width="0.55"/>
<line x1="370.80" y1="236.06" x2="372.80" y2="236.06" stroke="#222" stroke-width="0.5"/>
<text x="370.20" y="237.16" font-size="3.2" fill="#111" font-family="'Liberation Serif',serif" text-anchor="end" font-weight="bold" stroke="#111" stroke-width="0.07">Spliceosome</text>
<line x1="372.80" y1="244.21" x2="513.80" y2="244.21" stroke="#e2e2e2" stroke-width="0.55"/>
<line x1="370.80" y1="244.21" x2="372.80" y2="244.21" stroke="#222" stroke-width="0.5"/>
<text x="370.20" y="245.31" font-size="3.2" fill="#111" font-family="'Liberation Serif',serif" text-anchor="end" font-weight="bold" stroke="#111" stroke-width="0.07">Purine metabolism</text>
<line x1="372.80" y1="252.37" x2="513.80" y2="252.37" stroke="#e2e2e2" stroke-width="0.55"/>
<line x1="370.80" y1="252.37" x2="372.80" y2="252.37" stroke="#222" stroke-width="0.5"/>
<text x="370.20" y="253.47" font-size="3.2" fill="#111" font-family="'Liberation Serif',serif" text-anchor="end" font-weight="bold" stroke="#111" stroke-width="0.07">Nucleotide excision repair</text>
<line x1="372.80" y1="260.52" x2="513.80" y2="260.52" stroke="#e2e2e2" stroke-width="0.55"/>
<line x1="370.80" y1="260.52" x2="372.80" y2="260.52" stroke="#222" stroke-width="0.5"/>
<text x="370.20" y="261.62" font-size="3.2" fill="#111" font-family="'Liberation Serif',serif" text-anchor="end" font-weight="bold" stroke="#111" stroke-width="0.07">Ribosome biogenesis in eukaryotes</text>
<line x1="372.80" y1="268.67" x2="513.80" y2="268.67" stroke="#e2e2e2" stroke-width="0.55"/>
<line x1="370.80" y1="268.67" x2="372.80" y2="268.67" stroke="#222" stroke-width="0.5"/>
<text x="370.20" y="269.77" font-size="3.2" fill="#111" font-family="'Liberation Serif',serif" text-anchor="end" font-weight="bold" stroke="#111" stroke-width="0.07">N-Glycan biosynthesis</text>
<line x1="372.80" y1="276.82" x2="513.80" y2="276.82" stroke="#e2e2e2" stroke-width="0.55"/>
<line x1="370.80" y1="276.82" x2="372.80" y2="276.82" stroke="#222" stroke-width="0.5"/>
<text x="370.20" y="277.92" font-size="3.2" fill="#111" font-family="'Liberation Serif',serif" text-anchor="end" font-weight="bold" stroke="#111" stroke-width="0.07">Cell cycle - yeast</text>
<line x1="372.80" y1="284.98" x2="513.80" y2="284.98" stroke="#e2e2e2" stroke-width="0.55"/>
<line x1="370.80" y1="284.98" x2="372.80" y2="284.98" stroke="#222" stroke-width="0.5"/>
<text x="370.20" y="286.08" font-size="3.2" fill="#111" font-family="'Liberation Serif',serif" text-anchor="end" font-weight="bold" stroke="#111" stroke-width="0.07">Autophagy - yeast</text>
<line x1="372.80" y1="293.13" x2="513.80" y2="293.13" stroke="#e2e2e2" stroke-width="0.55"/>
<line x1="370.80" y1="293.13" x2="372.80" y2="293.13" stroke="#222" stroke-width="0.5"/>
<text x="370.20" y="294.23" font-size="3.2" fill="#111" font-family="'Liberation Serif',serif" text-anchor="end" font-weight="bold" stroke="#111" stroke-width="0.07">Mismatch repair</text>
<line x1="372.80" y1="301.28" x2="513.80" y2="301.28" stroke="#e2e2e2" stroke-width="0.55"/>
<line x1="370.80" y1="301.28" x2="372.80" y2="301.28" stroke="#222" stroke-width="0.5"/>
<text x="370.20" y="302.38" font-size="3.2" fill="#111" font-family="'Liberation Serif',serif" text-anchor="end" font-weight="bold" stroke="#111" stroke-width="0.07">Meiosis - yeast</text>
<line x1="372.80" y1="309.44" x2="513.80" y2="309.44" stroke="#e2e2e2" stroke-width="0.55"/>
<line x1="370.80" y1="309.44" x2="372.80" y2="309.44" stroke="#222" stroke-width="0.5"/>
<text x="370.20" y="310.54" font-size="3.2" fill="#111" font-family="'Liberation Serif',serif" text-anchor="end" font-weight="bold" stroke="#111" stroke-width="0.07">Basal transcription factors</text>
<line x1="372.80" y1="317.59" x2="513.80" y2="317.59" stroke="#e2e2e2" stroke-width="0.55"/>
<line x1="370.80" y1="317.59" x2="372.80" y2="317.59" stroke="#222" stroke-width="0.5"/>
<text x="370.20" y="318.69" font-size="3.2" fill="#111" font-family="'Liberation Serif',serif" text-anchor="end" font-weight="bold" stroke="#111" stroke-width="0.07">Glycerophospholipid metabolism</text>
<line x1="372.80" y1="325.74" x2="513.80" y2="325.74" stroke="#e2e2e2" stroke-width="0.55"/>
<line x1="370.80" y1="325.74" x2="372.80" y2="325.74" stroke="#222" stroke-width="0.5"/>
<text x="370.20" y="326.84" font-size="3.2" fill="#111" font-family="'Liberation Serif',serif" text-anchor="end" font-weight="bold" stroke="#111" stroke-width="0.07">Homologous recombination</text>
<line x1="372.80" y1="333.89" x2="513.80" y2="333.89" stroke="#e2e2e2" stroke-width="0.55"/>
<line x1="370.80" y1="333.89" x2="372.80" y2="333.89" stroke="#222" stroke-width="0.5"/>
<text x="370.20" y="335.00" font-size="3.2" fill="#111" font-family="'Liberation Serif',serif" text-anchor="end" font-weight="bold" stroke="#111" stroke-width="0.07">Protein export</text>
<line x1="372.80" y1="342.05" x2="513.80" y2="342.05" stroke="#e2e2e2" stroke-width="0.55"/>
<line x1="370.80" y1="342.05" x2="372.80" y2="342.05" stroke="#222" stroke-width="0.5"/>
<text x="370.20" y="343.15" font-size="3.2" fill="#111" font-family="'Liberation Serif',serif" text-anchor="end" font-weight="bold" stroke="#111" stroke-width="0.07">Various types of N-glycan biosynthesis</text>
<line x1="372.80" y1="350.20" x2="513.80" y2="350.20" stroke="#e2e2e2" stroke-width="0.55"/>
<line x1="370.80" y1="350.20" x2="372.80" y2="350.20" stroke="#222" stroke-width="0.5"/>
<text x="370.20" y="351.30" font-size="3.2" fill="#111" font-family="'Liberation Serif',serif" text-anchor="end" font-weight="bold" stroke="#111" stroke-width="0.07">Glycosylphosphatidylinositol (GPI)-anchor biosynthesis</text>
<line x1="372.80" y1="358.35" x2="513.80" y2="358.35" stroke="#e2e2e2" stroke-width="0.55"/>
<line x1="370.80" y1="358.35" x2="372.80" y2="358.35" stroke="#222" stroke-width="0.5"/>
<text x="370.20" y="359.45" font-size="3.2" fill="#111" font-family="'Liberation Serif',serif" text-anchor="end" font-weight="bold" stroke="#111" stroke-width="0.07">Steroid biosynthesis</text>
<line x1="372.80" y1="366.51" x2="513.80" y2="366.51" stroke="#e2e2e2" stroke-width="0.55"/>
<line x1="370.80" y1="366.51" x2="372.80" y2="366.51" stroke="#222" stroke-width="0.5"/>
<text x="370.20" y="367.61" font-size="3.2" fill="#111" font-family="'Liberation Serif',serif" text-anchor="end" font-weight="bold" stroke="#111" stroke-width="0.07">MAPK signaling pathway - yeast</text>
<rect x="372.80" y="207.40" width="141.00" height="163.10" fill="none" stroke="#444" stroke-width="0.5"/>
<line x1="372.80" y1="370.50" x2="372.80" y2="372.00" stroke="#333" stroke-width="0.4"/>
<text x="372.80" y="375.30" font-size="3.0" fill="#333" font-family="'Liberation Serif',serif" text-anchor="middle" font-weight="bold">0.45</text>
<line x1="390.43" y1="370.50" x2="390.43" y2="372.00" stroke="#333" stroke-width="0.4"/>
<text x="390.43" y="375.30" font-size="3.0" fill="#333" font-family="'Liberation Serif',serif" text-anchor="middle" font-weight="bold">0.5</text>
<line x1="408.05" y1="370.50" x2="408.05" y2="372.00" stroke="#333" stroke-width="0.4"/>
<text x="408.05" y="375.30" font-size="3.0" fill="#333" font-family="'Liberation Serif',serif" text-anchor="middle" font-weight="bold">0.55</text>
<line x1="425.68" y1="370.50" x2="425.68" y2="372.00" stroke="#333" stroke-width="0.4"/>
<text x="425.68" y="375.30" font-size="3.0" fill="#333" font-family="'Liberation Serif',serif" text-anchor="middle" font-weight="bold">0.6</text>
<line x1="443.30" y1="370.50" x2="443.30" y2="372.00" stroke="#333" stroke-width="0.4"/>
<text x="443.30" y="375.30" font-size="3.0" fill="#333" font-family="'Liberation Serif',serif" text-anchor="middle" font-weight="bold">0.65</text>
<line x1="460.92" y1="370.50" x2="460.92" y2="372.00" stroke="#333" stroke-width="0.4"/>
<text x="460.92" y="375.30" font-size="3.0" fill="#333" font-family="'Liberation Serif',serif" text-anchor="middle" font-weight="bold">0.7</text>
<line x1="478.55" y1="370.50" x2="478.55" y2="372.00" stroke="#333" stroke-width="0.4"/>
<text x="478.55" y="375.30" font-size="3.0" fill="#333" font-family="'Liberation Serif',serif" text-anchor="middle" font-weight="bold">0.75</text>
<line x1="496.17" y1="370.50" x2="496.17" y2="372.00" stroke="#333" stroke-width="0.4"/>
<text x="496.17" y="375.30" font-size="3.0" fill="#333" font-family="'Liberation Serif',serif" text-anchor="middle" font-weight="bold">0.8</text>
<line x1="513.80" y1="370.50" x2="513.80" y2="372.00" stroke="#333" stroke-width="0.4"/>
<text x="513.80" y="375.30" font-size="3.0" fill="#333" font-family="'Liberation Serif',serif" text-anchor="middle" font-weight="bold">0.85</text>
<text x="442.50" y="380.40" font-size="3.7" fill="#111" font-family="'Liberation Serif',serif" text-anchor="middle" font-weight="bold">Rich Factor</text>
<text x="284.20" y="276.30" font-size="3.6" fill="#222" font-family="'Liberation Serif',serif" text-anchor="middle" font-weight="bold" transform="rotate(-90 284.20 276.30)">KEGG pathway</text>
<circle cx="501.60" cy="211.60" r="1.56" fill="#ff1a2a"/>
<circle cx="441.00" cy="219.75" r="2.03" fill="#ff1a2a"/>
<circle cx="500.50" cy="227.91" r="1.46" fill="#ff1a2a"/>
<circle cx="428.80" cy="236.06" r="2.54" fill="#ff1a2a"/>
<circle cx="421.30" cy="244.21" r="2.54" fill="#ff1a30"/>
<circle cx="470.20" cy="252.37" r="1.67" fill="#ff1a2a"/>
<circle cx="427.90" cy="260.52" r="2.03" fill="#ff1a30"/>
<circle cx="455.20" cy="268.67" r="1.56" fill="#ff1a30"/>
<circle cx="413.80" cy="276.82" r="2.03" fill="#ff1a30"/>
<circle cx="410.30" cy="284.98" r="2.03" fill="#ff1a30"/>
<circle cx="482.80" cy="293.13" r="1.25" fill="#ff1a3a"/>
<circle cx="418.20" cy="301.28" r="1.92" fill="#f81a40"/>
<circle cx="448.80" cy="309.44" r="1.41" fill="#e81e60"/>
<circle cx="411.00" cy="317.59" r="1.82" fill="#d8206a"/>
<circle cx="459.30" cy="325.74" r="1.25" fill="#d82080"/>
<circle cx="445.00" cy="333.89" r="1.41" fill="#d8206a"/>
<circle cx="434.50" cy="342.05" r="1.41" fill="#8a2aa0"/>
<circle cx="462.90" cy="350.20" r="1.05" fill="#8a40b0"/>
<circle cx="427.70" cy="358.35" r="1.36" fill="#4038b0"/>
<circle cx="390.40" cy="366.51" r="2.59" fill="#3a3aa8"/>
<text x="0" y="0" font-size="3.25" fill="#222" font-family="'Liberation Sans',sans-serif" transform="translate(519.10 242.10) scale(0.88 1)" font-weight="bold" class="gp">Padjust</text>
<rect x="520.00" y="244.80" width="6.00" height="27.80" fill="url(#gB)"/>
<text x="0" y="0" font-size="3.4" fill="#444" font-family="'Liberation Sans',sans-serif" transform="translate(527.10 248.30) scale(0.86 1)" class="gp" stroke="#444" stroke-width="0.1">0.100</text>
<text x="0" y="0" font-size="3.4" fill="#444" font-family="'Liberation Sans',sans-serif" transform="translate(527.10 253.42) scale(0.86 1)" class="gp" stroke="#444" stroke-width="0.1">0.0800</text>
<text x="0" y="0" font-size="3.4" fill="#444" font-family="'Liberation Sans',sans-serif" transform="translate(527.10 258.54) scale(0.86 1)" class="gp" stroke="#444" stroke-width="0.1">0.0600</text>
<text x="0" y="0" font-size="3.4" fill="#444" font-family="'Liberation Sans',sans-serif" transform="translate(527.10 263.66) scale(0.86 1)" class="gp" stroke="#444" stroke-width="0.1">0.0400</text>
<text x="0" y="0" font-size="3.4" fill="#444" font-family="'Liberation Sans',sans-serif" transform="translate(527.10 268.78) scale(0.86 1)" class="gp" stroke="#444" stroke-width="0.1">0.0200</text>
<text x="0" y="0" font-size="3.4" fill="#444" font-family="'Liberation Sans',sans-serif" transform="translate(527.10 273.90) scale(0.86 1)" class="gp" stroke="#444" stroke-width="0.1">0.00</text>
<text x="0" y="0" font-size="3.5" fill="#333" font-family="'Liberation Sans',sans-serif" transform="translate(519.00 291.00) scale(0.88 1)" class="gp" stroke="#333" stroke-width="0.08">Number</text>
<circle cx="520.30" cy="295.10" r="0.80" fill="#111"/>
<text x="0" y="0" font-size="3.4" fill="#666" font-family="'Liberation Sans',sans-serif" transform="translate(525.20 296.30) scale(0.86 1)" class="gp" stroke="#666" stroke-width="0.1">12</text>
<circle cx="520.30" cy="300.10" r="1.55" fill="#111"/>
<text x="0" y="0" font-size="3.4" fill="#666" font-family="'Liberation Sans',sans-serif" transform="translate(525.20 301.30) scale(0.86 1)" class="gp" stroke="#666" stroke-width="0.1">34</text>
<circle cx="520.30" cy="305.50" r="2.00" fill="#111"/>
<text x="0" y="0" font-size="3.4" fill="#666" font-family="'Liberation Sans',sans-serif" transform="translate(525.20 306.70) scale(0.86 1)" class="gp" stroke="#666" stroke-width="0.1">57</text>
<circle cx="520.30" cy="311.90" r="2.65" fill="#111"/>
<text x="0" y="0" font-size="3.4" fill="#666" font-family="'Liberation Sans',sans-serif" transform="translate(525.20 313.10) scale(0.86 1)" class="gp" stroke="#666" stroke-width="0.1">80</text>
</svg></body></html>
